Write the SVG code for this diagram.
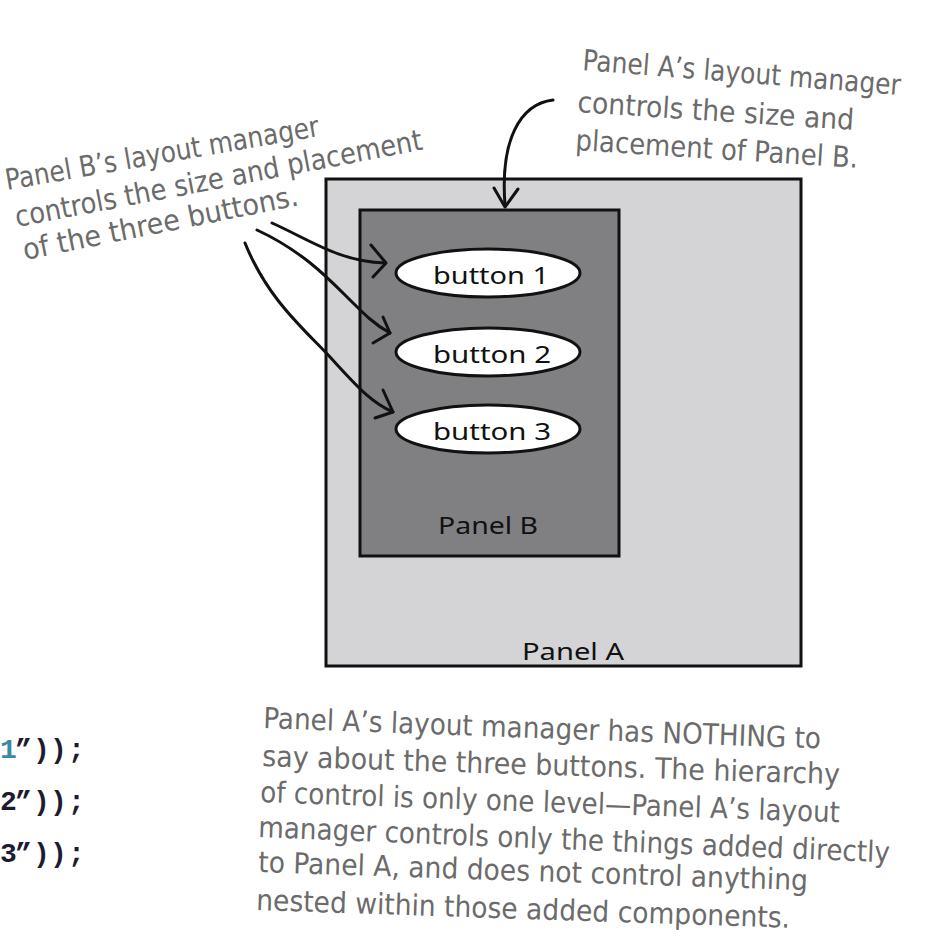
<svg xmlns="http://www.w3.org/2000/svg" width="940" height="945" viewBox="0 0 940 945">
<style>
.hand{font-family:"Liberation Sans Narrow","DejaVu Sans Condensed","Open Sans",sans-serif;fill:#6b6b6b;font-size:29px}
.lbl{font-family:"Noto Sans","Open Sans",sans-serif;fill:#111;font-size:24px}
.code{font-family:"Liberation Mono","DejaVu Sans Mono",monospace;font-weight:bold;fill:#1c1c30;font-size:28px}
.con{fill:none;stroke:#111;stroke-width:3;stroke-linecap:round;stroke-linejoin:round}
</style>
<rect width="940" height="945" fill="#fff"/>
<g id="panelA">
<rect x="326" y="179" width="475" height="487" fill="#d4d4d6" stroke="#111" stroke-width="3"/>
<text class="lbl" x="522" y="660" textLength="102" lengthAdjust="spacingAndGlyphs">Panel A</text>
</g>
<g id="panelB">
<rect x="360" y="210" width="259" height="346" fill="#808083" stroke="#111" stroke-width="3"/>
<text class="lbl" x="438" y="534" textLength="100" lengthAdjust="spacingAndGlyphs">Panel B</text>
</g>
<g id="button1">
<ellipse cx="488" cy="273" rx="92" ry="24" fill="#fff" stroke="#111" stroke-width="3"/>
<text class="lbl" x="433" y="284" textLength="116" lengthAdjust="spacingAndGlyphs">button 1</text>
</g>
<g id="button2">
<ellipse cx="488" cy="352" rx="92" ry="24" fill="#fff" stroke="#111" stroke-width="3"/>
<text class="lbl" x="433" y="363" textLength="118" lengthAdjust="spacingAndGlyphs">button 2</text>
</g>
<g id="button3">
<ellipse cx="488" cy="429" rx="92" ry="24" fill="#fff" stroke="#111" stroke-width="3"/>
<text class="lbl" x="433" y="440" textLength="118" lengthAdjust="spacingAndGlyphs">button 3</text>
</g>
<g id="connectors">
<path class="con" d="M553,100 C520,104 500,140 505,205"/>
<path class="con" d="M494,188 L505,207 L518,189"/>
<path class="con" d="M272,223 C310,240 340,262 385,263"/>
<path class="con" d="M371,245 L386,263 L373,277"/>
<path class="con" d="M257,230 C300,250 325,275 345,295 S375,325 390,333"/>
<path class="con" d="M383,317 L390,333 L373,343"/>
<path class="con" d="M245,243 C268,300 305,330 330,357 S370,402 393,412"/>
<path class="con" d="M383,390 L393,412 L375,418"/>
</g>
<g id="noteB">
<text class="hand" transform="translate(7,190) rotate(-9.8)" textLength="318" lengthAdjust="spacingAndGlyphs">Panel B’s layout manager</text>
<text class="hand" transform="translate(17,227) rotate(-10.8)" textLength="414" lengthAdjust="spacingAndGlyphs">controls the size and placement</text>
<text class="hand" transform="translate(25,260) rotate(-11.3)" textLength="280" lengthAdjust="spacingAndGlyphs">of the three buttons.</text>
</g>
<g id="noteA">
<text class="hand" transform="translate(582,70) rotate(4.5)" textLength="319" lengthAdjust="spacingAndGlyphs">Panel A’s layout manager</text>
<text class="hand" transform="translate(577,112) rotate(3.7)" textLength="277" lengthAdjust="spacingAndGlyphs">controls the size and</text>
<text class="hand" transform="translate(575,150) rotate(3.6)" textLength="283" lengthAdjust="spacingAndGlyphs">placement of Panel B.</text>
</g>
<g id="noteBottom">
<text class="hand" transform="translate(263,728) rotate(2.1)" textLength="558" lengthAdjust="spacingAndGlyphs">Panel A’s layout manager has NOTHING to</text>
<text class="hand" transform="translate(262,766) rotate(1.8)" textLength="578" lengthAdjust="spacingAndGlyphs">say about the three buttons. The hierarchy</text>
<text class="hand" transform="translate(260,802) rotate(2)" textLength="580" lengthAdjust="spacingAndGlyphs">of control is only one level—Panel A’s layout</text>
<text class="hand" transform="translate(258,837) rotate(2.3)" textLength="632" lengthAdjust="spacingAndGlyphs">manager controls only the things added directly</text>
<text class="hand" transform="translate(258,872) rotate(1.9)" textLength="550" lengthAdjust="spacingAndGlyphs">to Panel A, and does not control anything</text>
<text class="hand" transform="translate(256,910) rotate(1.9)" textLength="534" lengthAdjust="spacingAndGlyphs">nested within those added components.</text>
</g>
<g id="code">
<text class="code" x="0" y="758"><tspan fill="#3a8aa0">1</tspan><tspan x="15">”</tspan><tspan x="33">)</tspan><tspan x="50">)</tspan><tspan x="68">;</tspan></text>
<text class="code" x="0" y="810">2<tspan x="15">”</tspan><tspan x="33">)</tspan><tspan x="50">)</tspan><tspan x="68">;</tspan></text>
<text class="code" x="0" y="862">3<tspan x="15">”</tspan><tspan x="33">)</tspan><tspan x="50">)</tspan><tspan x="68">;</tspan></text>
</g>
</svg>
